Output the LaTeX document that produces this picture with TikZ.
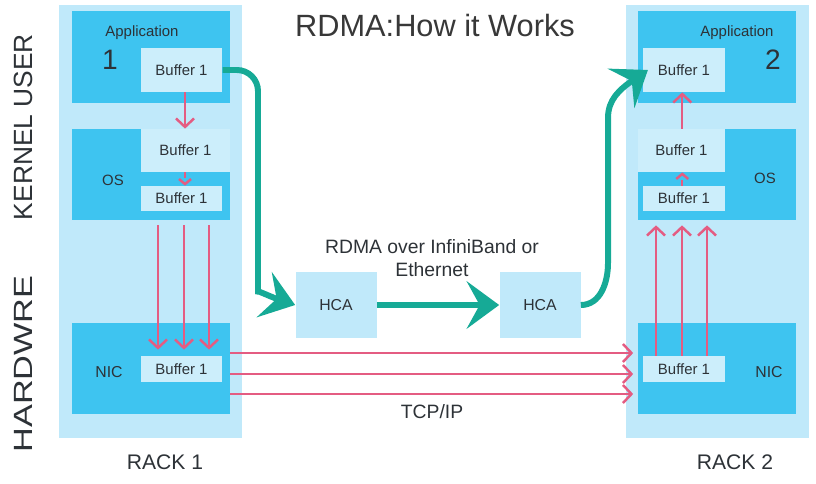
\documentclass[tikz,border=0pt]{standalone}
\usepackage{fontspec}
\usepackage{graphicx}
\setmainfont{Liberation Sans}
\usetikzlibrary{arrows.meta, bending, calc}
\definecolor{rackblue}{RGB}{192, 233, 250}
\definecolor{layerblue}{RGB}{62, 196, 240}
\definecolor{bufblue}{RGB}{204, 238, 251}
\definecolor{flowteal}{RGB}{22, 170, 150}
\definecolor{tcppink}{RGB}{228, 92, 130}
\definecolor{txtgray}{RGB}{45, 50, 55}

\begin{document}
\begin{tikzpicture}[font=\fontsize{8.5}{10}\selectfont, text=txtgray,
    rack/.style={fill=rackblue, minimum width=3.66cm, minimum height=8.66cm, inner sep=0},
    layer/.style={fill=layerblue, minimum width=3.16cm, minimum height=1.82cm, inner sep=0},
    buf/.style={fill=bufblue, minimum width=1.63cm, inner sep=0},
    hca/.style={fill=rackblue, minimum width=1.62cm, minimum height=1.32cm, inner sep=0, font=\fontsize{9}{11}\selectfont},
    tcp/.style={tcppink, line width=1.4pt, -{Straight Barb[length=1.7mm, width=3.6mm]}},
    rdma/.style={flowteal, line width=3.4pt, -{Stealth[length=6.5mm, width=9.5mm, inset=2.6mm, flex]}}]
  \useasboundingbox (0, 0) rectangle (16.32, 9.66);

  % Racks and layers
  \node[rack]  (rack1) at (3.00, 5.23)  {};
  \node[rack]  (rack2) at (14.34, 5.23) {};
  \node[layer] (app1)  at (3.02, 8.52)  {};
  \node[layer] (os1)   at (3.02, 6.17)  {};
  \node[layer] (nic1)  at (3.02, 2.29)  {};
  \node[layer] (app2)  at (14.33, 8.52) {};
  \node[layer] (os2)   at (14.33, 6.17) {};
  \node[layer] (nic2)  at (14.33, 2.29) {};

  % Buffers
  \node[buf, minimum height=0.88cm]                      (ab1) at (3.63, 8.26)  {Buffer 1};
  \node[buf, minimum width=1.78cm, minimum height=0.86cm] (oa1) at (3.71, 6.65)  {Buffer 1};
  \node[buf, minimum height=0.5cm]                       (ob1) at (3.63, 5.69)  {Buffer 1};
  \node[buf, minimum height=0.52cm]                      (nb1) at (3.63, 2.28)  {Buffer 1};
  \node[buf, minimum height=0.88cm]                      (ab2) at (13.68, 8.26) {Buffer 1};
  \node[buf, minimum width=1.74cm, minimum height=0.86cm] (oa2) at (13.63, 6.65) {Buffer 1};
  \node[buf, minimum height=0.5cm]                       (ob2) at (13.68, 5.69) {Buffer 1};
  \node[buf, minimum height=0.52cm]                      (nb2) at (13.68, 2.28) {Buffer 1};

  % Layer labels
  \node (app1lbl) at (2.84, 9.00)  {Application};
  \node (app2lbl) at (14.74, 9.00) {Application};
  \node[font=\fontsize{16}{18}\selectfont] (num1) at (2.20, 8.46)  {1};
  \node[font=\fontsize{16}{18}\selectfont] (num2) at (15.46, 8.46) {2};
  \node (os1lbl) at (2.26, 6.06)  {OS};
  \node (os2lbl) at (15.30, 6.10) {OS};
  \node[font=\fontsize{9}{11}\selectfont] (nic1lbl) at (2.18, 2.22)  {NIC};
  \node[font=\fontsize{9}{11}\selectfont] (nic2lbl) at (15.38, 2.22) {NIC};

  \node[hca] (hca1) at (6.72, 3.56) {HCA};
  \node[hca] (hca2) at (10.80, 3.56) {HCA};

  % Titles
  \node[font=\fontsize{17.5}{20}\selectfont, text=black!78] (title) at (8.70, 9.14) {RDMA:How it Works};
  \node[font=\fontsize{11}{13}\selectfont, align=center] (rdmalbl) at (8.64, 4.50) {RDMA over InfiniBand or\\Ethernet};
  \node[font=\fontsize{11}{13}\selectfont] (tcplbl) at (8.64, 1.42) {TCP/IP};
  \node[font=\fontsize{12}{14}\selectfont] (rack1lbl) at (3.30, 0.42)  {RACK 1};
  \node[font=\fontsize{12}{14}\selectfont] (rack2lbl) at (14.70, 0.42) {RACK 2};
  \node[font=\fontsize{15}{17}\selectfont, rotate=90] (kulbl) at (0.46, 7.12) {KERNEL USER};
  \node[font=\fontsize{15}{17}\selectfont, rotate=90] (hwlbl) at (0.46, 2.38) {\scalebox{1.3}[1]{HARDWRE}};

  % TCP/IP copies
  \draw[tcp] ([xshift=2pt]ab1.south) -- ([xshift=2pt]ab1.south |- oa1.north);
  \draw[tcp, dashed, -{Straight Barb[length=1mm, width=2.4mm]}]
        ([xshift=2pt]ab1.south |- oa1.south) -- ([xshift=2pt]ab1.south |- ob1.north);
  \foreach \dx in {-0.47, 0.05, 0.55}
    \draw[tcp] ([xshift=\dx cm, yshift=-0.1cm]nb1.north |- os1.south) -- ([xshift=\dx cm, yshift=0.12cm]nb1.north);
  \foreach \dy in {0.31, -0.11, -0.51}
    \draw[tcp] ([yshift=\dy cm]nic1.east) -- ([yshift=\dy cm, xshift=-0.08cm]nic2.west);
  \foreach \dx in {-0.56, -0.04, 0.46}
    \draw[tcp] ([xshift=\dx cm]nb2.north) -- ([xshift=\dx cm, yshift=-0.1cm]nb2.north |- os2.south);
  \draw[tcp, dashed, -{Straight Barb[length=1mm, width=2.4mm]}]
        ([xshift=-1pt]ab2.south |- ob2.north) -- ([xshift=-1pt]ab2.south |- oa2.south);
  \draw[tcp] ([xshift=-1pt]ab2.south |- oa2.north) -- ([xshift=-1pt]ab2.south);

  % RDMA path
  \draw[rdma, rounded corners=12pt] (ab1.east) -- (5.16, 8.26) -- (5.16, 4.25) to[out=-90, in=165] (hca1.west);
  \draw[rdma] (hca1.east) -- (hca2.west);
  \draw[rdma] (hca2.east) to[out=0, in=-90] (12.16, 4.40) -- (12.16, 7.30) to[out=90, in=215] ([xshift=0.1cm]ab2.west);
\end{tikzpicture}
\end{document}
